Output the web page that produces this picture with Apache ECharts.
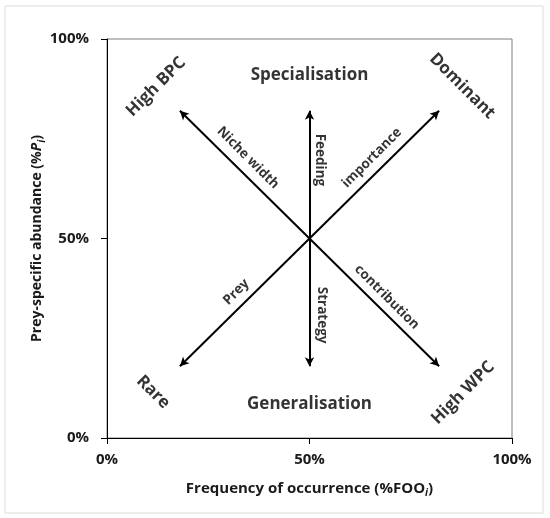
<!DOCTYPE html>
<html><head><meta charset="utf-8">
<script src="https://cdn.jsdelivr.net/npm/echarts@6/dist/echarts.min.js"></script>
<style>html,body{margin:0;padding:0;background:#fff}#c{width:550px;height:518px}</style>
</head><body><div id="c"></div>
<script>
var xTicks = [0, 50, 100];
var yTicks = [0, 50, 100];
var origin = [50, 50];
var arrowEnds = [[18, 82], [50, 82], [82, 82], [18, 18], [50, 18], [82, 18]];
var labelTexts = ['Specialisation', 'Generalisation', 'High BPC', 'Dominant', 'Rare', 'High WPC'];
var labelPos = [[50, 91], [50, 8.5], [12.1, 88], [87.7, 88.2], [11.4, 11.5], [87.9, 11.3]];
var labelRot = [0, 0, 45, -45, -45, 45];
var arrowTexts = ['Niche width', 'Feeding', 'importance', 'Prey', 'Strategy', 'contribution'];
var arrowTextPos = [[34.8, 70.2], [52.6, 69.7], [65.4, 70.2], [31.9, 36.6], [53.1, 30.8], [69.1, 35.3]];
var arrowTextRot = [-45, -90, 45, 45, -90, -45];

var FONT = 'Open Sans';
function textData(texts, pos, rot, size) {
  return texts.map(function (t, i) {
    return {
      name: t, value: pos[i],
      label: { show: true, formatter: t, rotate: rot[i], position: 'inside',
        fontFamily: FONT, fontWeight: 'bold', fontSize: size, color: '#000' }
    };
  });
}
var chart = echarts.init(document.getElementById('c'));
chart.setOption({
  backgroundColor: '#fff',
  animation: false,
  graphic: [{ type: 'rect', shape: { x: 5, y: 6, width: 538, height: 507 },
    style: { fill: 'none', stroke: '#dcdcdc', lineWidth: 1 }, silent: true }],
  grid: { left: 107, right: 38, top: 39, bottom: 80, show: true, borderColor: '#7f7f7f', borderWidth: 1 },
  xAxis: {
    type: 'value', min: xTicks[0], max: xTicks[xTicks.length - 1], interval: 50,
    name: 'Frequency of occurrence (%FOO{sub|i})', nameLocation: 'middle', nameGap: 41,
    nameTextStyle: { fontFamily: FONT, fontWeight: 'bold', fontSize: 15, color: '#1a1a1a',
      rich: { sub: { fontFamily: FONT, fontWeight: 'bold', fontStyle: 'italic', fontSize: 10, color: '#1a1a1a', padding: [9, 0, 0, 0] } } },
    axisLine: { show: true, lineStyle: { color: '#000', width: 1 } },
    axisTick: { show: true, inside: false, length: 6, lineStyle: { color: '#000' } },
    axisLabel: { formatter: '{value}%', margin: 14, fontFamily: FONT, fontWeight: 'bold', fontSize: 15, color: '#1a1a1a' },
    splitLine: { show: false }
  },
  yAxis: {
    type: 'value', min: yTicks[0], max: yTicks[yTicks.length - 1], interval: 50,
    name: 'Prey-specific abundance (%{it|P}{sub|i})', nameLocation: 'middle', nameGap: 60,
    nameMoveOverlap: false,
    nameTextStyle: { fontFamily: FONT, fontWeight: 'bold', fontSize: 14, color: '#1a1a1a',
      rich: { it: { fontFamily: FONT, fontWeight: 'bold', fontStyle: 'italic', fontSize: 14, color: '#1a1a1a' },
              sub: { fontFamily: FONT, fontWeight: 'bold', fontStyle: 'italic', fontSize: 10, color: '#1a1a1a', padding: [9, 0, 0, 0] } } },
    axisLine: { show: true, lineStyle: { color: '#000', width: 1 } },
    axisTick: { show: true, inside: false, length: 6, lineStyle: { color: '#000' } },
    axisLabel: { formatter: '{value}%', margin: 18, fontFamily: FONT, fontWeight: 'bold', fontSize: 15, color: '#1a1a1a' },
    splitLine: { show: false }
  },
  series: [
    {
      type: 'scatter', symbolSize: 0, data: [],
      markLine: {
        silent: true, symbol: ['none', 'arrow'], symbolSize: [7, 9],
        lineStyle: { color: '#000', width: 2, type: 'solid' },
        label: { show: false },
        data: arrowEnds.map(function (e) { return [{ coord: origin }, { coord: e }]; })
      }
    },
    { type: 'scatter', symbolSize: 0, silent: true, data: textData(labelTexts, labelPos, labelRot, 17) },
    { type: 'scatter', symbolSize: 0, silent: true, data: textData(arrowTexts, arrowTextPos, arrowTextRot, 13.5) }
  ]
});
</script></body></html>
